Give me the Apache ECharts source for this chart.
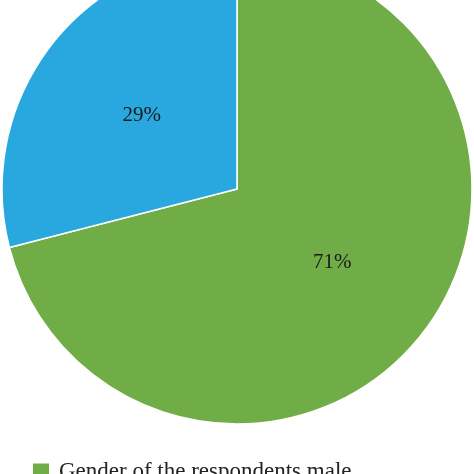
<!DOCTYPE html>
<html>
<head>
<meta charset="utf-8">
<script src="https://cdn.jsdelivr.net/npm/echarts@6/dist/echarts.min.js"></script>
<style>html,body{margin:0;padding:0;background:#fff}#chart{width:474px;height:474px}</style>
</head>
<body>
<div id="chart"></div>
<script>
const categories = ['Gender of the respondents male', 'Gender of the respondents female']
const values = [71, 29]
const colors = ['#70ad47', '#29a8e0']

const chart = echarts.init(document.getElementById('chart'))
chart.setOption({
    animation: false,
    color: colors,
    legend: {
        orient: 'vertical',
        left: 26,
        top: 455,
        height: 200,
        itemWidth: 18,
        itemHeight: 18,
        icon: 'rect',
        itemGap: 12,
        textStyle: { fontFamily: 'Liberation Serif', fontSize: 23, color: '#222', padding: [0, 0, 0, 4] },
        data: categories
    },
    series: [{
        type: 'pie',
        center: [237, 189],
        radius: [0, 235],
        startAngle: 90,
        clockwise: true,
        itemStyle: { borderColor: '#fff', borderWidth: 1.5 },
        label: {
            position: 'inner',
            formatter: '{c}%',
            fontFamily: 'Liberation Serif',
            fontSize: 21,
            color: '#1a1a1a'
        },
        labelLine: { show: false },
        data: categories.map((name, i) => ({ name, value: values[i] }))
    }]
})
</script>
</body>
</html>
